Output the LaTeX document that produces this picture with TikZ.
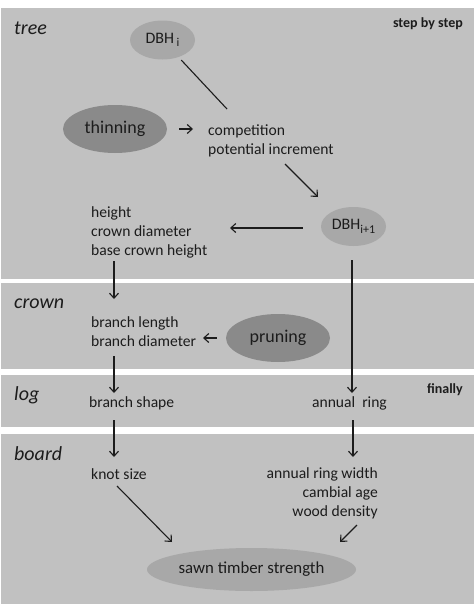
\documentclass[tikz,border=0pt]{standalone}
\usepackage{fontspec}
\setmainfont{Carlito}
\usetikzlibrary{shapes.geometric,arrows.meta}
\definecolor{bandgray}{RGB}{193,193,193}
\definecolor{lightell}{RGB}{168,168,168}
\definecolor{darkell}{RGB}{138,138,138}
\definecolor{ink}{RGB}{28,28,28}
\begin{document}
\begin{tikzpicture}[x=1pt,y=-1pt,
    every node/.style={text=ink,inner sep=0pt},
    level/.style={anchor=west,font=\fontsize{20}{24}\selectfont\itshape},
    note/.style={anchor=east,font=\fontsize{14}{16}\selectfont\bfseries},
    txt/.style={font=\fontsize{15.6}{19}\selectfont},
    small ell/.style={ellipse,fill=lightell,minimum width=65pt,minimum height=39pt,font=\fontsize{16}{18}\selectfont},
    big ell/.style={ellipse,fill=darkell,minimum width=104pt,minimum height=48pt,font=\fontsize{18}{21}\selectfont},
    >={Straight Barb[length=5pt,width=9pt]}]
      \useasboundingbox (0,0) rectangle (474,613);
      \fill[bandgray] (1,8) rectangle (474,279);
      \fill[bandgray] (1,283) rectangle (474,369);
      \fill[bandgray] (1,375) rectangle (474,427);
      \fill[bandgray] (1,434) rectangle (474,604);
      \path
        (14,28) node[level] (tree){tree}
        (14,304) node[level] (crown){crown}
        (14,395) node[level] (log){log}
        (14,454) node[level] (board){board}
        (463,24) node[note] (sbs){step by step}
        (463,390) node[note] (fin){finally}
        (162.5,40) node[small ell] (dbhi){DBH\,\raisebox{-3.5pt}{\fontsize{12}{14}\selectfont i}}
        (115,129) node[big ell] (thin){thinning}
        (208,140.5) node[txt,anchor=west,align=left] (comp){competition\\potential\ increment}
        (353.5,226.5) node[small ell] (dbhii){DBH\raisebox{-3.5pt}{\fontsize{12}{14}\selectfont i+1}}
        (91,232) node[txt,anchor=west,align=left] (hgt){height\\crown diameter\\base crown height}
        (278,338) node[big ell] (prun){pruning}
        (91,331.5) node[txt,anchor=west,align=left] (brl){branch length\\branch diameter}
        (89,403) node[txt,anchor=west] (brs){branch shape}
        (349.5,403) node[txt] (anr){annual\ \ ring}
        (91,474) node[txt,anchor=west] (knot){knot size}
        (378,493) node[txt,anchor=east,align=right] (arw){annual ring width\\cambial age\\wood density}
        (251.5,569.5) node[ellipse,fill=lightell,minimum width=209pt,minimum height=43pt,font=\fontsize{16.8}{19}\selectfont] (saw){sawn timber strength};
      \begin{scope}[line width=1.1pt,draw=ink]
        \draw[shorten <=4pt] (dbhi) -- ([xshift=19pt,yshift=31.5pt]comp.west);
      \end{scope}
      \begin{scope}[->,line width=1.1pt,draw=ink]
        \draw ([xshift=12pt]thin.east) -- ([xshift=-15pt,yshift=11.5pt]comp.west);
        \draw ([xshift=77pt,yshift=-23.5pt]comp.west) -- ([xshift=-35.5pt,yshift=29.5pt]dbhii.center);
        \draw ([xshift=-18pt,yshift=-1.5pt]dbhii.west) -- ([xshift=139pt,yshift=4pt]hgt.west);
        \draw ([xshift=23pt,yshift=-29pt]hgt.west) -- ([xshift=23pt,yshift=32.5pt]brl.west);
        \draw ([xshift=-1.5pt,yshift=-14pt]dbhii.south) -- ([xshift=2.5pt,yshift=10pt]anr.center);
        \draw ([xshift=-9pt]prun.west) -- ([xshift=112pt,yshift=-6.5pt]brl.west);
        \draw ([xshift=23pt,yshift=-24.5pt]brl.west) -- ([xshift=25pt,yshift=10pt]brs.west);
        \draw ([xshift=25pt,yshift=-17pt]brs.west) -- ([xshift=23pt,yshift=17pt]knot.west);
        \draw ([xshift=3.5pt,yshift=-17pt]anr.center) -- ([xshift=-25pt,yshift=36pt]arw.east);
        \draw ([xshift=26pt,yshift=-12pt]knot.west) -- ([xshift=-79.5pt,yshift=27.5pt]saw.center);
        \draw ([xshift=-21pt,yshift=-32pt]arw.east) -- ([xshift=88.5pt,yshift=27.5pt]saw.center);
      \end{scope}
    \end{tikzpicture}
\end{document}
